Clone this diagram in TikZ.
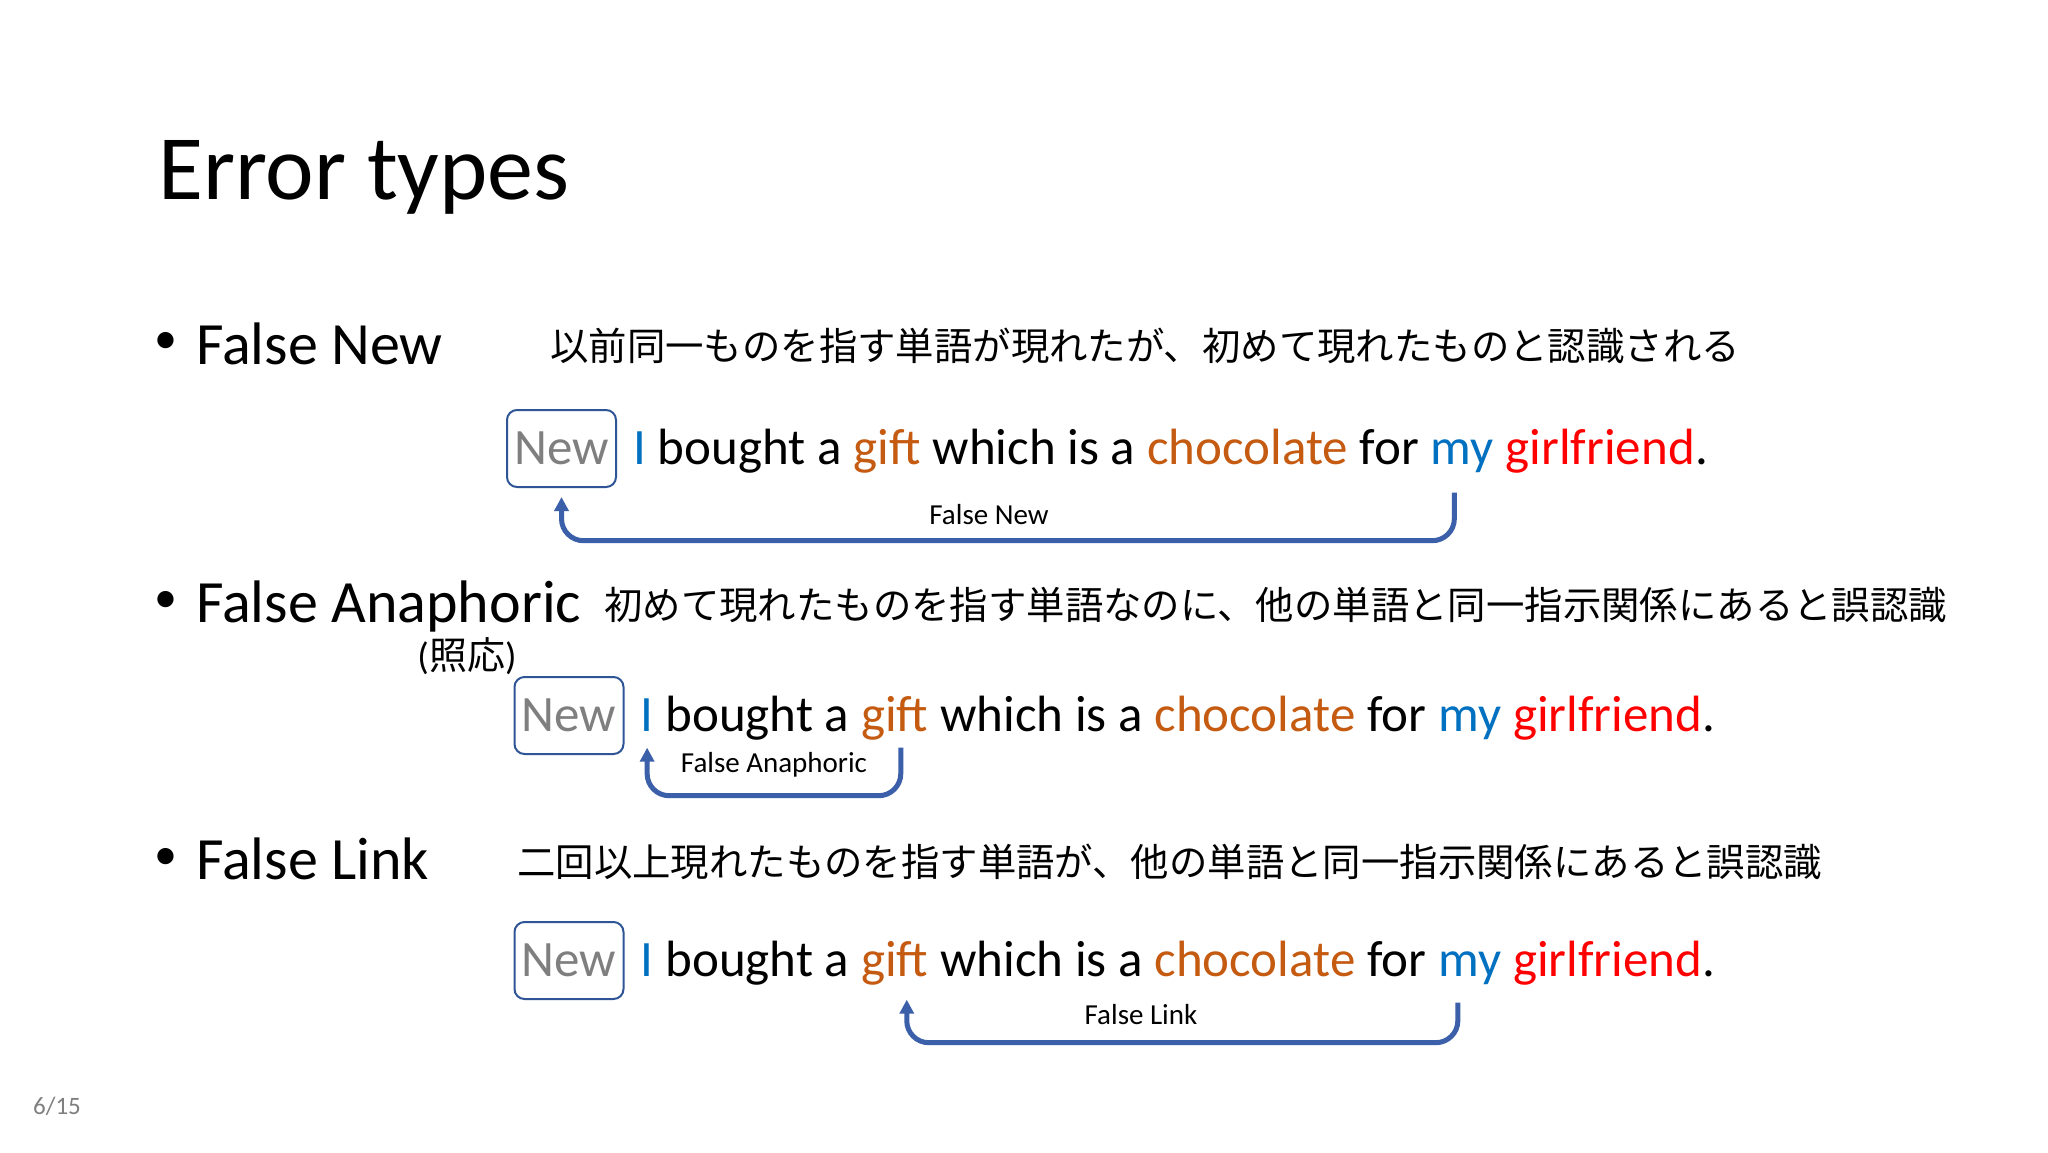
\documentclass[tikz,border=0pt]{standalone}
\usepackage{fontspec}
\setmainfont{Carlito}
\newfontfamily\jpfont{Noto Sans CJK JP}
\usetikzlibrary{positioning,arrows.meta}
\definecolor{wordblue}{HTML}{0070C0}
\definecolor{wordorange}{HTML}{C55A11}
\definecolor{wordred}{HTML}{FF0000}
\definecolor{newgrey}{HTML}{7F7F7F}
\definecolor{boxblue}{HTML}{2F5597}
\definecolor{linkblue}{HTML}{3B5FA8}
\newcommand\wsp{11.5pt}
\tikzset{
  title/.style={font=\fontsize{92}{100}\selectfont, anchor=base west, inner sep=0pt},
  head/.style={font=\fontsize{60}{66}\selectfont, anchor=base west, inner sep=0pt},
  dot/.style={font=\fontsize{46}{50}\selectfont, anchor=center, inner sep=0pt},
  jp/.style={font=\jpfont\fontsize{38.4}{44}\selectfont, anchor=west, inner sep=0pt},
  word/.style={font=\fontsize{51}{60}\selectfont, inner sep=0pt},
  newbox/.style={draw=boxblue, line width=2pt, rounded corners=10pt, text=newgrey,
    font=\fontsize{51}{60}\selectfont, minimum width=109pt, minimum height=77pt, inner sep=0pt},
  tag/.style={font=\fontsize{29}{34}\selectfont, inner sep=0pt},
  flow/.style={draw=linkblue, line width=5pt, rounded corners=22pt,
    -{Triangle[length=14pt,width=14pt]}}
}
% one example sentence with its "New" box
\newcommand\sentline[2]{%
  \node[newbox] (#1new) at (#2) {New};
  \node[word, text=wordblue, base right=16pt of #1new] (#1i) {I};
  \node[word, base right=\wsp of #1i] (#1bought) {bought a};
  \node[word, text=wordorange, base right=\wsp of #1bought] (#1gift) {gift};
  \node[word, base right=\wsp of #1gift] (#1which) {which is a};
  \node[word, text=wordorange, base right=\wsp of #1which] (#1choc) {chocolate};
  \node[word, base right=\wsp of #1choc] (#1for) {for};
  \node[word, text=wordblue, base right=\wsp of #1for] (#1my) {my};
  \node[word, text=wordred, base right=\wsp of #1my] (#1girl) {girlfriend};
  \node[word, base right=0pt of #1girl] (#1stop) {.};
}
\begin{document}
\begin{tikzpicture}[x=1pt,y=-1pt]
  \useasboundingbox (0,0) rectangle (2048,1152);
  \fill[white] (0,0) rectangle (2048,1152);

  \node[title] (title) at (158,199) {Error types};

  % False New
  \node[dot] (d1) at (166,343) {•};
  \node[head] (h1) at (196,364) {False New};
  \node[jp] (jp1) at (550,346) {以前同一ものを指す単語が現れたが、初めて現れたものと認識される};
  \sentline{s1}{561.5,448.5}
  \node[tag] (t1) at (989,515) {False New};
  \draw[flow] ([xshift=-8pt,yshift=-28pt]s1my.base) -- ++(0,48) -| ([yshift=-9pt]s1new.south);

  % False Anaphoric
  \node[dot] (d2) at (166,602) {•};
  \node[head] (h2) at (196,622) {False Anaphoric};
  \node[jp] (jp2) at (604,605) {初めて現れたものを指す単語なのに、他の単語と同一指示関係にあると誤認識};
  \node[head, anchor=center, font=\fontsize{38}{44}\selectfont] (h2b) at (467,656) {({\jpfont 照応})};
  \sentline{s2}{569,715.5}
  \node[tag] (t2) at (774,765) {False Anaphoric};
  \draw[flow] ([xshift=6pt,yshift=-16pt]s2gift.base) -- ++(0,48) -| ([yshift=-16pt]s2i.base);

  % False Link
  \node[dot] (d3) at (166,859) {•};
  \node[head] (h3) at (196,879) {False Link};
  \node[jp] (jp3) at (517,862) {二回以上現れたものを指す単語が、他の単語と同一指示関係にあると誤認識};
  \sentline{s3}{569,960.5}
  \node[tag] (t3) at (1141,1015) {False Link};
  \draw[flow] ([xshift=-12pt,yshift=-26pt]s3my.base) -- ++(0,40) -| ([xshift=12pt,yshift=-23pt]s3gift.base);

  \node[font=\fontsize{25}{30}\selectfont, text=newgrey, anchor=west, inner sep=0pt] (page) at (33,1106) {6/15};
\end{tikzpicture}
\end{document}
